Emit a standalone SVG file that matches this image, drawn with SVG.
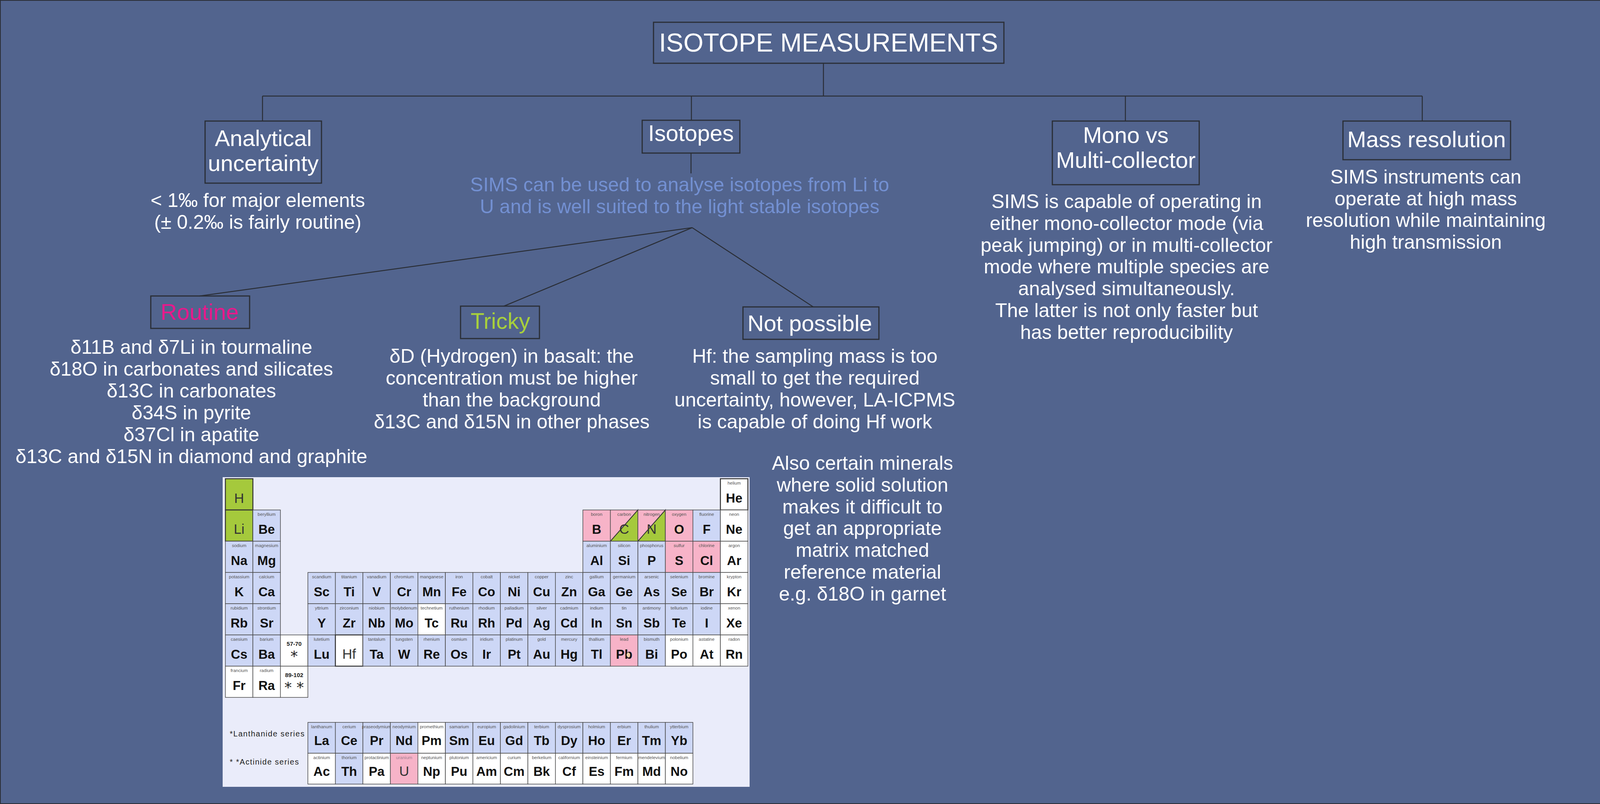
<svg xmlns="http://www.w3.org/2000/svg" width="4125" height="2059" viewBox="0 0 4125 2059">
<style>
.t{font-family:"Liberation Sans",Arial,sans-serif;font-size:50px;fill:#ffffff;text-anchor:middle}
.hd{font-family:"Liberation Sans",Arial,sans-serif;font-size:58px;fill:#ffffff;text-anchor:middle}
.ttl{font-family:"Liberation Sans",Arial,sans-serif;font-size:66px;fill:#ffffff;text-anchor:middle}
.blue{fill:#7390d2}
.box{fill:none;stroke:#2a2e36;stroke-width:3}
.conn{fill:none;stroke:#2a2e36;stroke-width:2.5}
.pb{fill:#cdd7f6;stroke:#4a4a4a;stroke-width:1.5}
.pw{fill:#ffffff;stroke:#4a4a4a;stroke-width:1.5}
.pp{fill:#f7b3c8;stroke:#4a4a4a;stroke-width:1.5}
.pg{fill:#a5c93c;stroke:#333333;stroke-width:2.5}
.thk{stroke:#333333;stroke-width:2.5}
.nm{font-family:"Liberation Sans",Arial,sans-serif;font-size:11.5px;fill:#555555;text-anchor:middle}
.sy{font-family:"Liberation Sans",Arial,sans-serif;font-size:33px;font-weight:bold;fill:#111111;text-anchor:middle}
.sl{font-family:"Liberation Sans",Arial,sans-serif;font-size:35px;fill:#333333;text-anchor:middle}
.ser{font-family:"Liberation Sans",Arial,sans-serif;font-size:20px;fill:#222222;letter-spacing:1.5px}
.rng{font-family:"Liberation Sans",Arial,sans-serif;font-size:15px;font-weight:bold;fill:#222222;text-anchor:middle}
.ast{font-family:"DejaVu Sans",sans-serif;font-size:38px;fill:#222222;text-anchor:middle}
</style>
<rect x="0" y="0" width="4125" height="2059" fill="#52648e"/>
<rect x="1" y="1" width="4123" height="2057" fill="none" stroke="#2a2e36" stroke-width="2"/>

<g id="connectors">
<path class="conn" d="M2108 162 V246"/>
<path class="conn" d="M672 246 H3641" stroke-width="3.5"/>
<path class="conn" d="M672 246 V310"/>
<path class="conn" d="M1770 246 V308"/>
<path class="conn" d="M2881 246 V310"/>
<path class="conn" d="M3641 246 V310"/>
<path class="conn" d="M1769 392 V444"/>
<path class="conn" d="M1772 583 L511 758"/>
<path class="conn" d="M1772 583 L1290 784"/>
<path class="conn" d="M1772 583 L2082 786"/>
</g>

<g id="title">
<rect class="box" x="1673" y="57" width="897" height="105"/>
<text class="ttl" x="2121" y="132">ISOTOPE MEASUREMENTS</text>
</g>

<g id="analytical">
<rect class="box" x="525" y="310" width="298" height="159"/>
<text class="hd" x="674" y="374">Analytical</text>
<text class="hd" x="674" y="438">uncertainty</text>
<text class="t" x="660" y="530">&lt; 1‰ for major elements</text>
<text class="t" x="660" y="586">(± 0.2‰ is fairly routine)</text>
</g>

<g id="isotopes">
<rect class="box" x="1644" y="308" width="250" height="84"/>
<text class="hd" x="1769" y="361">Isotopes</text>
<text class="t blue" x="1740" y="490">SIMS can be used to analyse isotopes from Li to</text>
<text class="t blue" x="1740" y="546">U and is well suited to the light stable isotopes</text>
</g>

<g id="mono">
<rect class="box" x="2694" y="310" width="376" height="163"/>
<text class="hd" x="2882" y="366">Mono vs</text>
<text class="hd" x="2882" y="430">Multi-collector</text>
<text class="t" x="2884" y="533">SIMS is capable of operating in</text>
<text class="t" x="2884" y="589">either mono-collector mode (via</text>
<text class="t" x="2884" y="645">peak jumping) or in multi-collector</text>
<text class="t" x="2884" y="700">mode where multiple species are</text>
<text class="t" x="2884" y="756">analysed simultaneously.</text>
<text class="t" x="2884" y="812">The latter is not only faster but</text>
<text class="t" x="2884" y="868">has better reproducibility</text>
</g>

<g id="massres">
<rect class="box" x="3438" y="310" width="429" height="99"/>
<text class="hd" x="3652" y="377">Mass resolution</text>
<text class="t" x="3650" y="470">SIMS instruments can</text>
<text class="t" x="3650" y="526">operate at high mass</text>
<text class="t" x="3650" y="581">resolution while maintaining</text>
<text class="t" x="3650" y="637">high transmission</text>
</g>

<g id="routine">
<rect class="box" x="386" y="758" width="253" height="83"/>
<text class="hd" x="511" y="819" style="fill:#e8198b">Routine</text>
<text class="t" x="490" y="906">δ11B and δ7Li in tourmaline</text>
<text class="t" x="490" y="962">δ18O in carbonates and silicates</text>
<text class="t" x="490" y="1018">δ13C in carbonates</text>
<text class="t" x="490" y="1074">δ34S in pyrite</text>
<text class="t" x="490" y="1130">δ37Cl in apatite</text>
<text class="t" x="490" y="1186">δ13C and δ15N in diamond and graphite</text>
</g>

<g id="tricky">
<rect class="box" x="1179" y="784" width="202" height="83"/>
<text class="hd" x="1281" y="842" style="fill:#a8d03c">Tricky</text>
<text class="t" x="1310" y="929">δD (Hydrogen) in basalt: the</text>
<text class="t" x="1310" y="985">concentration must be higher</text>
<text class="t" x="1310" y="1041">than the background</text>
<text class="t" x="1310" y="1097">δ13C and δ15N in other phases</text>
</g>

<g id="notpossible">
<rect class="box" x="1902" y="786" width="348" height="83"/>
<text class="hd" x="2073" y="848">Not possible</text>
<text class="t" x="2086" y="929">Hf: the sampling mass is too</text>
<text class="t" x="2086" y="985">small to get the required</text>
<text class="t" x="2086" y="1041">uncertainty, however, LA-ICPMS</text>
<text class="t" x="2086" y="1097">is capable of doing Hf work</text>
<text class="t" x="2208" y="1203">Also certain minerals</text>
<text class="t" x="2208" y="1259">where solid solution</text>
<text class="t" x="2208" y="1315">makes it difficult to</text>
<text class="t" x="2208" y="1370">get an appropriate</text>
<text class="t" x="2208" y="1426">matrix matched</text>
<text class="t" x="2208" y="1482">reference material</text>
<text class="t" x="2208" y="1538">e.g. δ18O in garnet</text>
</g>

<g id="periodic-table">
<rect x="570" y="1222" width="1349" height="793" fill="#eaecfa"/>
<!-- row 1 -->
<g transform="translate(577,1226)"><rect class="pg" width="70.4" height="80"/><text class="sl" x="35.2" y="62">H</text></g>
<g transform="translate(1844.2,1226)"><rect class="pw thk" width="70.4" height="80"/><text class="nm" x="35.2" y="15">helium</text><text class="sy" x="35.2" y="61">He</text></g>
<!-- row 2 -->
<g transform="translate(577,1306)"><rect class="pg" width="70.4" height="80"/><text class="sl" x="35.2" y="61">Li</text></g>
<g transform="translate(647.4,1306)"><rect class="pb" width="70.4" height="80"/><text class="nm" x="35.2" y="15">beryllium</text><text class="sy" x="35.2" y="61">Be</text></g>
<g transform="translate(1492.2,1306)"><rect class="pp" width="70.4" height="80"/><text class="nm" x="35.2" y="15">boron</text><text class="sy" x="35.2" y="61">B</text></g>
<g transform="translate(1562.6,1306)"><rect class="pp" width="70.4" height="80"/><polygon points="0,80 70.4,0 70.4,80" fill="#a5c93c" stroke="#333" stroke-width="2"/><text class="nm" x="35.2" y="15">carbon</text><text class="sl" x="35.2" y="61">C</text></g>
<g transform="translate(1633,1306)"><rect class="pp" width="70.4" height="80"/><polygon points="0,80 70.4,0 70.4,80" fill="#a5c93c" stroke="#333" stroke-width="2"/><text class="nm" x="35.2" y="15">nitrogen</text><text class="sl" x="35.2" y="61">N</text></g>
<g transform="translate(1703.4,1306)"><rect class="pp" width="70.4" height="80"/><text class="nm" x="35.2" y="15">oxygen</text><text class="sy" x="35.2" y="61">O</text><ellipse cx="35.2" cy="50" rx="5" ry="7" fill="#f6d2a8"/></g>
<g transform="translate(1773.8,1306)"><rect class="pb" width="70.4" height="80"/><text class="nm" x="35.2" y="15">fluorine</text><text class="sy" x="35.2" y="61">F</text></g>
<g transform="translate(1844.2,1306)"><rect class="pw" width="70.4" height="80"/><text class="nm" x="35.2" y="15">neon</text><text class="sy" x="35.2" y="61">Ne</text></g>
<!-- row 3 -->
<g transform="translate(577,1386)"><rect class="pb" width="70.4" height="80"/><text class="nm" x="35.2" y="15">sodium</text><text class="sy" x="35.2" y="61">Na</text></g>
<g transform="translate(647.4,1386)"><rect class="pb" width="70.4" height="80"/><text class="nm" x="35.2" y="15">magnesium</text><text class="sy" x="35.2" y="61">Mg</text></g>
<g transform="translate(1492.2,1386)"><rect class="pb" width="70.4" height="80"/><text class="nm" x="35.2" y="15">aluminium</text><text class="sy" x="35.2" y="61">Al</text></g>
<g transform="translate(1562.6,1386)"><rect class="pb" width="70.4" height="80"/><text class="nm" x="35.2" y="15">silicon</text><text class="sy" x="35.2" y="61">Si</text></g>
<g transform="translate(1633,1386)"><rect class="pb" width="70.4" height="80"/><text class="nm" x="35.2" y="15">phosphorus</text><text class="sy" x="35.2" y="61">P</text></g>
<g transform="translate(1703.4,1386)"><rect class="pp" width="70.4" height="80"/><text class="nm" x="35.2" y="15">sulfur</text><text class="sy" x="35.2" y="61">S</text></g>
<g transform="translate(1773.8,1386)"><rect class="pp" width="70.4" height="80"/><text class="nm" x="35.2" y="15">chlorine</text><text class="sy" x="35.2" y="61">Cl</text></g>
<g transform="translate(1844.2,1386)"><rect class="pw" width="70.4" height="80"/><text class="nm" x="35.2" y="15">argon</text><text class="sy" x="35.2" y="61">Ar</text></g>
<!-- row 4 -->
<g transform="translate(577,1466)"><rect class="pb" width="70.4" height="80"/><text class="nm" x="35.2" y="15">potassium</text><text class="sy" x="35.2" y="61">K</text></g>
<g transform="translate(647.4,1466)"><rect class="pb" width="70.4" height="80"/><text class="nm" x="35.2" y="15">calcium</text><text class="sy" x="35.2" y="61">Ca</text></g>
<g transform="translate(788.2,1466)"><rect class="pb" width="70.4" height="80"/><text class="nm" x="35.2" y="15">scandium</text><text class="sy" x="35.2" y="61">Sc</text></g>
<g transform="translate(858.6,1466)"><rect class="pb" width="70.4" height="80"/><text class="nm" x="35.2" y="15">titanium</text><text class="sy" x="35.2" y="61">Ti</text></g>
<g transform="translate(929,1466)"><rect class="pb" width="70.4" height="80"/><text class="nm" x="35.2" y="15">vanadium</text><text class="sy" x="35.2" y="61">V</text></g>
<g transform="translate(999.4,1466)"><rect class="pb" width="70.4" height="80"/><text class="nm" x="35.2" y="15">chromium</text><text class="sy" x="35.2" y="61">Cr</text></g>
<g transform="translate(1069.8,1466)"><rect class="pb" width="70.4" height="80"/><text class="nm" x="35.2" y="15">manganese</text><text class="sy" x="35.2" y="61">Mn</text></g>
<g transform="translate(1140.2,1466)"><rect class="pb" width="70.4" height="80"/><text class="nm" x="35.2" y="15">iron</text><text class="sy" x="35.2" y="61">Fe</text></g>
<g transform="translate(1210.6,1466)"><rect class="pb" width="70.4" height="80"/><text class="nm" x="35.2" y="15">cobalt</text><text class="sy" x="35.2" y="61">Co</text></g>
<g transform="translate(1281,1466)"><rect class="pb" width="70.4" height="80"/><text class="nm" x="35.2" y="15">nickel</text><text class="sy" x="35.2" y="61">Ni</text></g>
<g transform="translate(1351.4,1466)"><rect class="pb" width="70.4" height="80"/><text class="nm" x="35.2" y="15">copper</text><text class="sy" x="35.2" y="61">Cu</text></g>
<g transform="translate(1421.8,1466)"><rect class="pb" width="70.4" height="80"/><text class="nm" x="35.2" y="15">zinc</text><text class="sy" x="35.2" y="61">Zn</text></g>
<g transform="translate(1492.2,1466)"><rect class="pb" width="70.4" height="80"/><text class="nm" x="35.2" y="15">gallium</text><text class="sy" x="35.2" y="61">Ga</text></g>
<g transform="translate(1562.6,1466)"><rect class="pb" width="70.4" height="80"/><text class="nm" x="35.2" y="15">germanium</text><text class="sy" x="35.2" y="61">Ge</text></g>
<g transform="translate(1633,1466)"><rect class="pb" width="70.4" height="80"/><text class="nm" x="35.2" y="15">arsenic</text><text class="sy" x="35.2" y="61">As</text></g>
<g transform="translate(1703.4,1466)"><rect class="pb" width="70.4" height="80"/><text class="nm" x="35.2" y="15">selenium</text><text class="sy" x="35.2" y="61">Se</text></g>
<g transform="translate(1773.8,1466)"><rect class="pb" width="70.4" height="80"/><text class="nm" x="35.2" y="15">bromine</text><text class="sy" x="35.2" y="61">Br</text></g>
<g transform="translate(1844.2,1466)"><rect class="pw" width="70.4" height="80"/><text class="nm" x="35.2" y="15">krypton</text><text class="sy" x="35.2" y="61">Kr</text></g>
<!-- row 5 -->
<g transform="translate(577,1546)"><rect class="pb" width="70.4" height="80"/><text class="nm" x="35.2" y="15">rubidium</text><text class="sy" x="35.2" y="61">Rb</text></g>
<g transform="translate(647.4,1546)"><rect class="pb" width="70.4" height="80"/><text class="nm" x="35.2" y="15">strontium</text><text class="sy" x="35.2" y="61">Sr</text></g>
<g transform="translate(788.2,1546)"><rect class="pb" width="70.4" height="80"/><text class="nm" x="35.2" y="15">yttrium</text><text class="sy" x="35.2" y="61">Y</text></g>
<g transform="translate(858.6,1546)"><rect class="pb" width="70.4" height="80"/><text class="nm" x="35.2" y="15">zirconium</text><text class="sy" x="35.2" y="61">Zr</text></g>
<g transform="translate(929,1546)"><rect class="pb" width="70.4" height="80"/><text class="nm" x="35.2" y="15">niobium</text><text class="sy" x="35.2" y="61">Nb</text></g>
<g transform="translate(999.4,1546)"><rect class="pb" width="70.4" height="80"/><text class="nm" x="35.2" y="15">molybdenum</text><text class="sy" x="35.2" y="61">Mo</text></g>
<g transform="translate(1069.8,1546)"><rect class="pw" width="70.4" height="80"/><text class="nm" x="35.2" y="15">technetium</text><text class="sy" x="35.2" y="61">Tc</text></g>
<g transform="translate(1140.2,1546)"><rect class="pb" width="70.4" height="80"/><text class="nm" x="35.2" y="15">ruthenium</text><text class="sy" x="35.2" y="61">Ru</text></g>
<g transform="translate(1210.6,1546)"><rect class="pb" width="70.4" height="80"/><text class="nm" x="35.2" y="15">rhodium</text><text class="sy" x="35.2" y="61">Rh</text></g>
<g transform="translate(1281,1546)"><rect class="pb" width="70.4" height="80"/><text class="nm" x="35.2" y="15">palladium</text><text class="sy" x="35.2" y="61">Pd</text></g>
<g transform="translate(1351.4,1546)"><rect class="pb" width="70.4" height="80"/><text class="nm" x="35.2" y="15">silver</text><text class="sy" x="35.2" y="61">Ag</text></g>
<g transform="translate(1421.8,1546)"><rect class="pb" width="70.4" height="80"/><text class="nm" x="35.2" y="15">cadmium</text><text class="sy" x="35.2" y="61">Cd</text></g>
<g transform="translate(1492.2,1546)"><rect class="pb" width="70.4" height="80"/><text class="nm" x="35.2" y="15">indium</text><text class="sy" x="35.2" y="61">In</text></g>
<g transform="translate(1562.6,1546)"><rect class="pb" width="70.4" height="80"/><text class="nm" x="35.2" y="15">tin</text><text class="sy" x="35.2" y="61">Sn</text></g>
<g transform="translate(1633,1546)"><rect class="pb" width="70.4" height="80"/><text class="nm" x="35.2" y="15">antimony</text><text class="sy" x="35.2" y="61">Sb</text></g>
<g transform="translate(1703.4,1546)"><rect class="pb" width="70.4" height="80"/><text class="nm" x="35.2" y="15">tellurium</text><text class="sy" x="35.2" y="61">Te</text></g>
<g transform="translate(1773.8,1546)"><rect class="pb" width="70.4" height="80"/><text class="nm" x="35.2" y="15">iodine</text><text class="sy" x="35.2" y="61">I</text></g>
<g transform="translate(1844.2,1546)"><rect class="pw" width="70.4" height="80"/><text class="nm" x="35.2" y="15">xenon</text><text class="sy" x="35.2" y="61">Xe</text></g>
<!-- row 6 -->
<g transform="translate(577,1626)"><rect class="pb" width="70.4" height="80"/><text class="nm" x="35.2" y="15">caesium</text><text class="sy" x="35.2" y="61">Cs</text></g>
<g transform="translate(647.4,1626)"><rect class="pb" width="70.4" height="80"/><text class="nm" x="35.2" y="15">barium</text><text class="sy" x="35.2" y="61">Ba</text></g>
<g transform="translate(717.8,1626)"><rect class="pw" width="70.4" height="80"/><text class="rng" x="35.2" y="28">57-70</text><text class="ast" x="35.2" y="68">*</text></g>
<g transform="translate(788.2,1626)"><rect class="pb" width="70.4" height="80"/><text class="nm" x="35.2" y="15">lutetium</text><text class="sy" x="35.2" y="61">Lu</text></g>
<g transform="translate(858.6,1626)"><rect class="pw thk" width="70.4" height="80"/><text class="sl" x="35.2" y="61">Hf</text></g>
<g transform="translate(929,1626)"><rect class="pb" width="70.4" height="80"/><text class="nm" x="35.2" y="15">tantalum</text><text class="sy" x="35.2" y="61">Ta</text></g>
<g transform="translate(999.4,1626)"><rect class="pb" width="70.4" height="80"/><text class="nm" x="35.2" y="15">tungsten</text><text class="sy" x="35.2" y="61">W</text></g>
<g transform="translate(1069.8,1626)"><rect class="pb" width="70.4" height="80"/><text class="nm" x="35.2" y="15">rhenium</text><text class="sy" x="35.2" y="61">Re</text></g>
<g transform="translate(1140.2,1626)"><rect class="pb" width="70.4" height="80"/><text class="nm" x="35.2" y="15">osmium</text><text class="sy" x="35.2" y="61">Os</text></g>
<g transform="translate(1210.6,1626)"><rect class="pb" width="70.4" height="80"/><text class="nm" x="35.2" y="15">iridium</text><text class="sy" x="35.2" y="61">Ir</text></g>
<g transform="translate(1281,1626)"><rect class="pb" width="70.4" height="80"/><text class="nm" x="35.2" y="15">platinum</text><text class="sy" x="35.2" y="61">Pt</text></g>
<g transform="translate(1351.4,1626)"><rect class="pb" width="70.4" height="80"/><text class="nm" x="35.2" y="15">gold</text><text class="sy" x="35.2" y="61">Au</text></g>
<g transform="translate(1421.8,1626)"><rect class="pb" width="70.4" height="80"/><text class="nm" x="35.2" y="15">mercury</text><text class="sy" x="35.2" y="61">Hg</text></g>
<g transform="translate(1492.2,1626)"><rect class="pb" width="70.4" height="80"/><text class="nm" x="35.2" y="15">thallium</text><text class="sy" x="35.2" y="61">Tl</text></g>
<g transform="translate(1562.6,1626)"><rect class="pp" width="70.4" height="80"/><text class="nm" x="35.2" y="15">lead</text><text class="sy" x="35.2" y="61">Pb</text><ellipse cx="46" cy="51" rx="4.5" ry="6" fill="#f6d2a8"/></g>
<g transform="translate(1633,1626)"><rect class="pb" width="70.4" height="80"/><text class="nm" x="35.2" y="15">bismuth</text><text class="sy" x="35.2" y="61">Bi</text></g>
<g transform="translate(1703.4,1626)"><rect class="pw" width="70.4" height="80"/><text class="nm" x="35.2" y="15">polonium</text><text class="sy" x="35.2" y="61">Po</text></g>
<g transform="translate(1773.8,1626)"><rect class="pw" width="70.4" height="80"/><text class="nm" x="35.2" y="15">astatine</text><text class="sy" x="35.2" y="61">At</text></g>
<g transform="translate(1844.2,1626)"><rect class="pw" width="70.4" height="80"/><text class="nm" x="35.2" y="15">radon</text><text class="sy" x="35.2" y="61">Rn</text></g>
<!-- row 7 -->
<g transform="translate(577,1706)"><rect class="pw" width="70.4" height="80"/><text class="nm" x="35.2" y="15">francium</text><text class="sy" x="35.2" y="61">Fr</text></g>
<g transform="translate(647.4,1706)"><rect class="pw" width="70.4" height="80"/><text class="nm" x="35.2" y="15">radium</text><text class="sy" x="35.2" y="61">Ra</text></g>
<g transform="translate(717.8,1706)"><rect class="pw" width="70.4" height="80"/><text class="rng" x="35.2" y="28">89-102</text><text class="ast" x="35.2" y="68">* *</text></g>
<!-- series labels -->
<text class="ser" x="588" y="1886">*Lanthanide series</text>
<text class="ser" x="588" y="1958">* *Actinide series</text>
<!-- lanthanides -->
<g transform="translate(788.2,1850)"><rect class="pb" width="70.4" height="79"/><text class="nm" x="35.2" y="15">lanthanum</text><text class="sy" x="35.2" y="58">La</text></g>
<g transform="translate(858.6,1850)"><rect class="pb" width="70.4" height="79"/><text class="nm" x="35.2" y="15">cerium</text><text class="sy" x="35.2" y="58">Ce</text></g>
<g transform="translate(929,1850)"><rect class="pb" width="70.4" height="79"/><text class="nm" x="35.2" y="15">praseodymium</text><text class="sy" x="35.2" y="58">Pr</text></g>
<g transform="translate(999.4,1850)"><rect class="pb" width="70.4" height="79"/><text class="nm" x="35.2" y="15">neodymium</text><text class="sy" x="35.2" y="58">Nd</text></g>
<g transform="translate(1069.8,1850)"><rect class="pw" width="70.4" height="79"/><text class="nm" x="35.2" y="15">promethium</text><text class="sy" x="35.2" y="58">Pm</text></g>
<g transform="translate(1140.2,1850)"><rect class="pb" width="70.4" height="79"/><text class="nm" x="35.2" y="15">samarium</text><text class="sy" x="35.2" y="58">Sm</text></g>
<g transform="translate(1210.6,1850)"><rect class="pb" width="70.4" height="79"/><text class="nm" x="35.2" y="15">europium</text><text class="sy" x="35.2" y="58">Eu</text></g>
<g transform="translate(1281,1850)"><rect class="pb" width="70.4" height="79"/><text class="nm" x="35.2" y="15">gadolinium</text><text class="sy" x="35.2" y="58">Gd</text></g>
<g transform="translate(1351.4,1850)"><rect class="pb" width="70.4" height="79"/><text class="nm" x="35.2" y="15">terbium</text><text class="sy" x="35.2" y="58">Tb</text></g>
<g transform="translate(1421.8,1850)"><rect class="pb" width="70.4" height="79"/><text class="nm" x="35.2" y="15">dysprosium</text><text class="sy" x="35.2" y="58">Dy</text></g>
<g transform="translate(1492.2,1850)"><rect class="pb" width="70.4" height="79"/><text class="nm" x="35.2" y="15">holmium</text><text class="sy" x="35.2" y="58">Ho</text></g>
<g transform="translate(1562.6,1850)"><rect class="pb" width="70.4" height="79"/><text class="nm" x="35.2" y="15">erbium</text><text class="sy" x="35.2" y="58">Er</text></g>
<g transform="translate(1633,1850)"><rect class="pb" width="70.4" height="79"/><text class="nm" x="35.2" y="15">thulium</text><text class="sy" x="35.2" y="58">Tm</text></g>
<g transform="translate(1703.4,1850)"><rect class="pb" width="70.4" height="79"/><text class="nm" x="35.2" y="15">ytterbium</text><text class="sy" x="35.2" y="58">Yb</text></g>
<!-- actinides -->
<g transform="translate(788.2,1929)"><rect class="pw" width="70.4" height="79"/><text class="nm" x="35.2" y="15">actinium</text><text class="sy" x="35.2" y="58">Ac</text></g>
<g transform="translate(858.6,1929)"><rect class="pb" width="70.4" height="79"/><text class="nm" x="35.2" y="15">thorium</text><text class="sy" x="35.2" y="58">Th</text></g>
<g transform="translate(929,1929)"><rect class="pw" width="70.4" height="79"/><text class="nm" x="35.2" y="15">protactinium</text><text class="sy" x="35.2" y="58">Pa</text></g>
<g transform="translate(999.4,1929)"><rect class="pp" width="70.4" height="79"/><text class="nm" x="35.2" y="15" style="fill:#a08090">uranium</text><text class="sl" x="35.2" y="58">U</text></g>
<g transform="translate(1069.8,1929)"><rect class="pw" width="70.4" height="79"/><text class="nm" x="35.2" y="15">neptunium</text><text class="sy" x="35.2" y="58">Np</text></g>
<g transform="translate(1140.2,1929)"><rect class="pw" width="70.4" height="79"/><text class="nm" x="35.2" y="15">plutonium</text><text class="sy" x="35.2" y="58">Pu</text></g>
<g transform="translate(1210.6,1929)"><rect class="pw" width="70.4" height="79"/><text class="nm" x="35.2" y="15">americium</text><text class="sy" x="35.2" y="58">Am</text></g>
<g transform="translate(1281,1929)"><rect class="pw" width="70.4" height="79"/><text class="nm" x="35.2" y="15">curium</text><text class="sy" x="35.2" y="58">Cm</text></g>
<g transform="translate(1351.4,1929)"><rect class="pw" width="70.4" height="79"/><text class="nm" x="35.2" y="15">berkelium</text><text class="sy" x="35.2" y="58">Bk</text></g>
<g transform="translate(1421.8,1929)"><rect class="pw" width="70.4" height="79"/><text class="nm" x="35.2" y="15">californium</text><text class="sy" x="35.2" y="58">Cf</text></g>
<g transform="translate(1492.2,1929)"><rect class="pw" width="70.4" height="79"/><text class="nm" x="35.2" y="15">einsteinium</text><text class="sy" x="35.2" y="58">Es</text></g>
<g transform="translate(1562.6,1929)"><rect class="pw" width="70.4" height="79"/><text class="nm" x="35.2" y="15">fermium</text><text class="sy" x="35.2" y="58">Fm</text></g>
<g transform="translate(1633,1929)"><rect class="pw" width="70.4" height="79"/><text class="nm" x="35.2" y="15">mendelevium</text><text class="sy" x="35.2" y="58">Md</text></g>
<g transform="translate(1703.4,1929)"><rect class="pw" width="70.4" height="79"/><text class="nm" x="35.2" y="15">nobelium</text><text class="sy" x="35.2" y="58">No</text></g>
</g>
</svg>
